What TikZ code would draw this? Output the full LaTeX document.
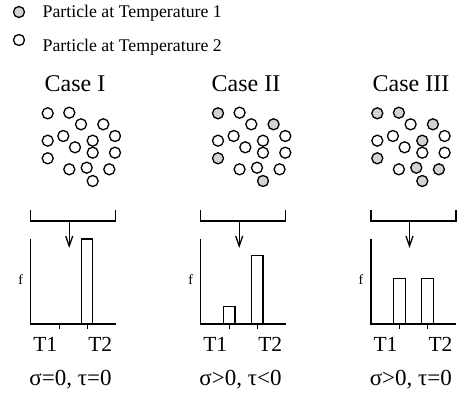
\documentclass[tikz,border=0pt]{standalone}
\usepackage{fontspec}
\setmainfont{Liberation Serif}
\usetikzlibrary{arrows.meta}
\definecolor{hotgray}{RGB}{208,212,210}

% particle pattern, x relative to the first particle
\def\partx{{0,21.6,33.3,55.6,67.3,15.6,0,45,27.3,45,67.3,0,21.6,39,61.6,45}}
\def\party{{113.3,112.7,124.3,124.3,136,136,140.7,140.7,147.3,152.7,152.7,158.3,169.3,167.7,169.3,181}}

\begin{document}
\begin{tikzpicture}[x=1pt,y=-1pt,line width=1.3pt,
    cold/.style={circle,draw,fill=white,minimum size=11pt,inner sep=0pt},
    hot/.style={cold,fill=hotgray},
    txt/.style={inner sep=0pt,anchor=base}]
    \useasboundingbox (0,0) rectangle (474,404);

    % legend
    \node [hot]  (leg1) at (19,12) {};
    \node [cold] (leg2) at (19,40) {};
    \node [txt,anchor=base west,font=\fontsize{17.8}{20}\selectfont] (legtxt1) at (42,17.3) {Particle at Temperature 1};
    \node [txt,anchor=base west,font=\fontsize{17.8}{20}\selectfont] (legtxt2) at (42,51.7) {Particle at Temperature 2};

    % particles
    \foreach \case/\dx/\styles in {%
        I/47.7/{cold,cold,cold,cold,cold,cold,cold,cold,cold,cold,cold,cold,cold,cold,cold,cold},
        II/218/{hot,cold,cold,hot,cold,cold,cold,cold,cold,cold,cold,hot,cold,cold,cold,hot},
        III/377.3/{hot,hot,cold,hot,cold,cold,cold,hot,cold,cold,cold,hot,cold,hot,hot,hot}}{%
        \foreach \s [count=\i from 0] in \styles
            \node [\s] (\case-p\i) at ({\dx+\partx[\i]},{\party[\i]}) {};}

    % case titles
    \node [txt,font=\fontsize{24}{28}\selectfont] (titleI)   at (75,91.7)  {Case I};
    \node [txt,font=\fontsize{24}{28}\selectfont] (titleII)  at (246,91.7) {Case II};
    \node [txt,font=\fontsize{24}{28}\selectfont] (titleIII) at (411,91.7) {Case III};

    % brackets, arrows and axes
    \foreach \case/\ax/\res in {I/30.7/{σ=0, τ=0},II/200.7/{σ>0, τ<0},III/371/{σ>0, τ=0}}{%
        \draw (\ax,210) -- (\ax,221) -- (\ax+85,221) -- (\ax+85,210);
        \coordinate (\case-top) at (\ax+38.5,221);
        \coordinate (\case-tip) at (\ax+38.5,248);
        \draw [-{Straight Barb[length=10pt,width=7pt]}] (\case-top) -- (\case-tip);
        \draw (\ax,239) -- (\ax,324) -- (\ax+85,324);
        \draw (\ax+28.5,324) -- (\ax+28.5,328.5);
        \draw (\ax+56.5,324) -- (\ax+56.5,328.5);
        \node [txt,font=\fontsize{14}{16}\selectfont] (\case-f) at (\ax-10,284.3) {f};
        \node [txt,font=\fontsize{21.5}{24}\selectfont] (\case-T1) at (\ax+14.5,351.7) {T1};
        \node [txt,font=\fontsize{21.5}{24}\selectfont] (\case-T2) at (\ax+69.5,351.7) {T2};
        \node [txt,font=\fontsize{23}{26}\selectfont] (\case-res) at (\ax+39.8,385.5) {\res};}

    % bars
    \draw [fill=white] (81.2,324) rectangle (92.8,239);
    \draw [fill=white] (223.4,324) rectangle (235,306.7);
    \draw [fill=white] (251.4,324) rectangle (263,255.7);
    \draw [fill=white] (393.7,324) rectangle (405.3,278.3);
    \draw [fill=white] (421.7,324) rectangle (433.3,278.3);
\end{tikzpicture}
\end{document}
